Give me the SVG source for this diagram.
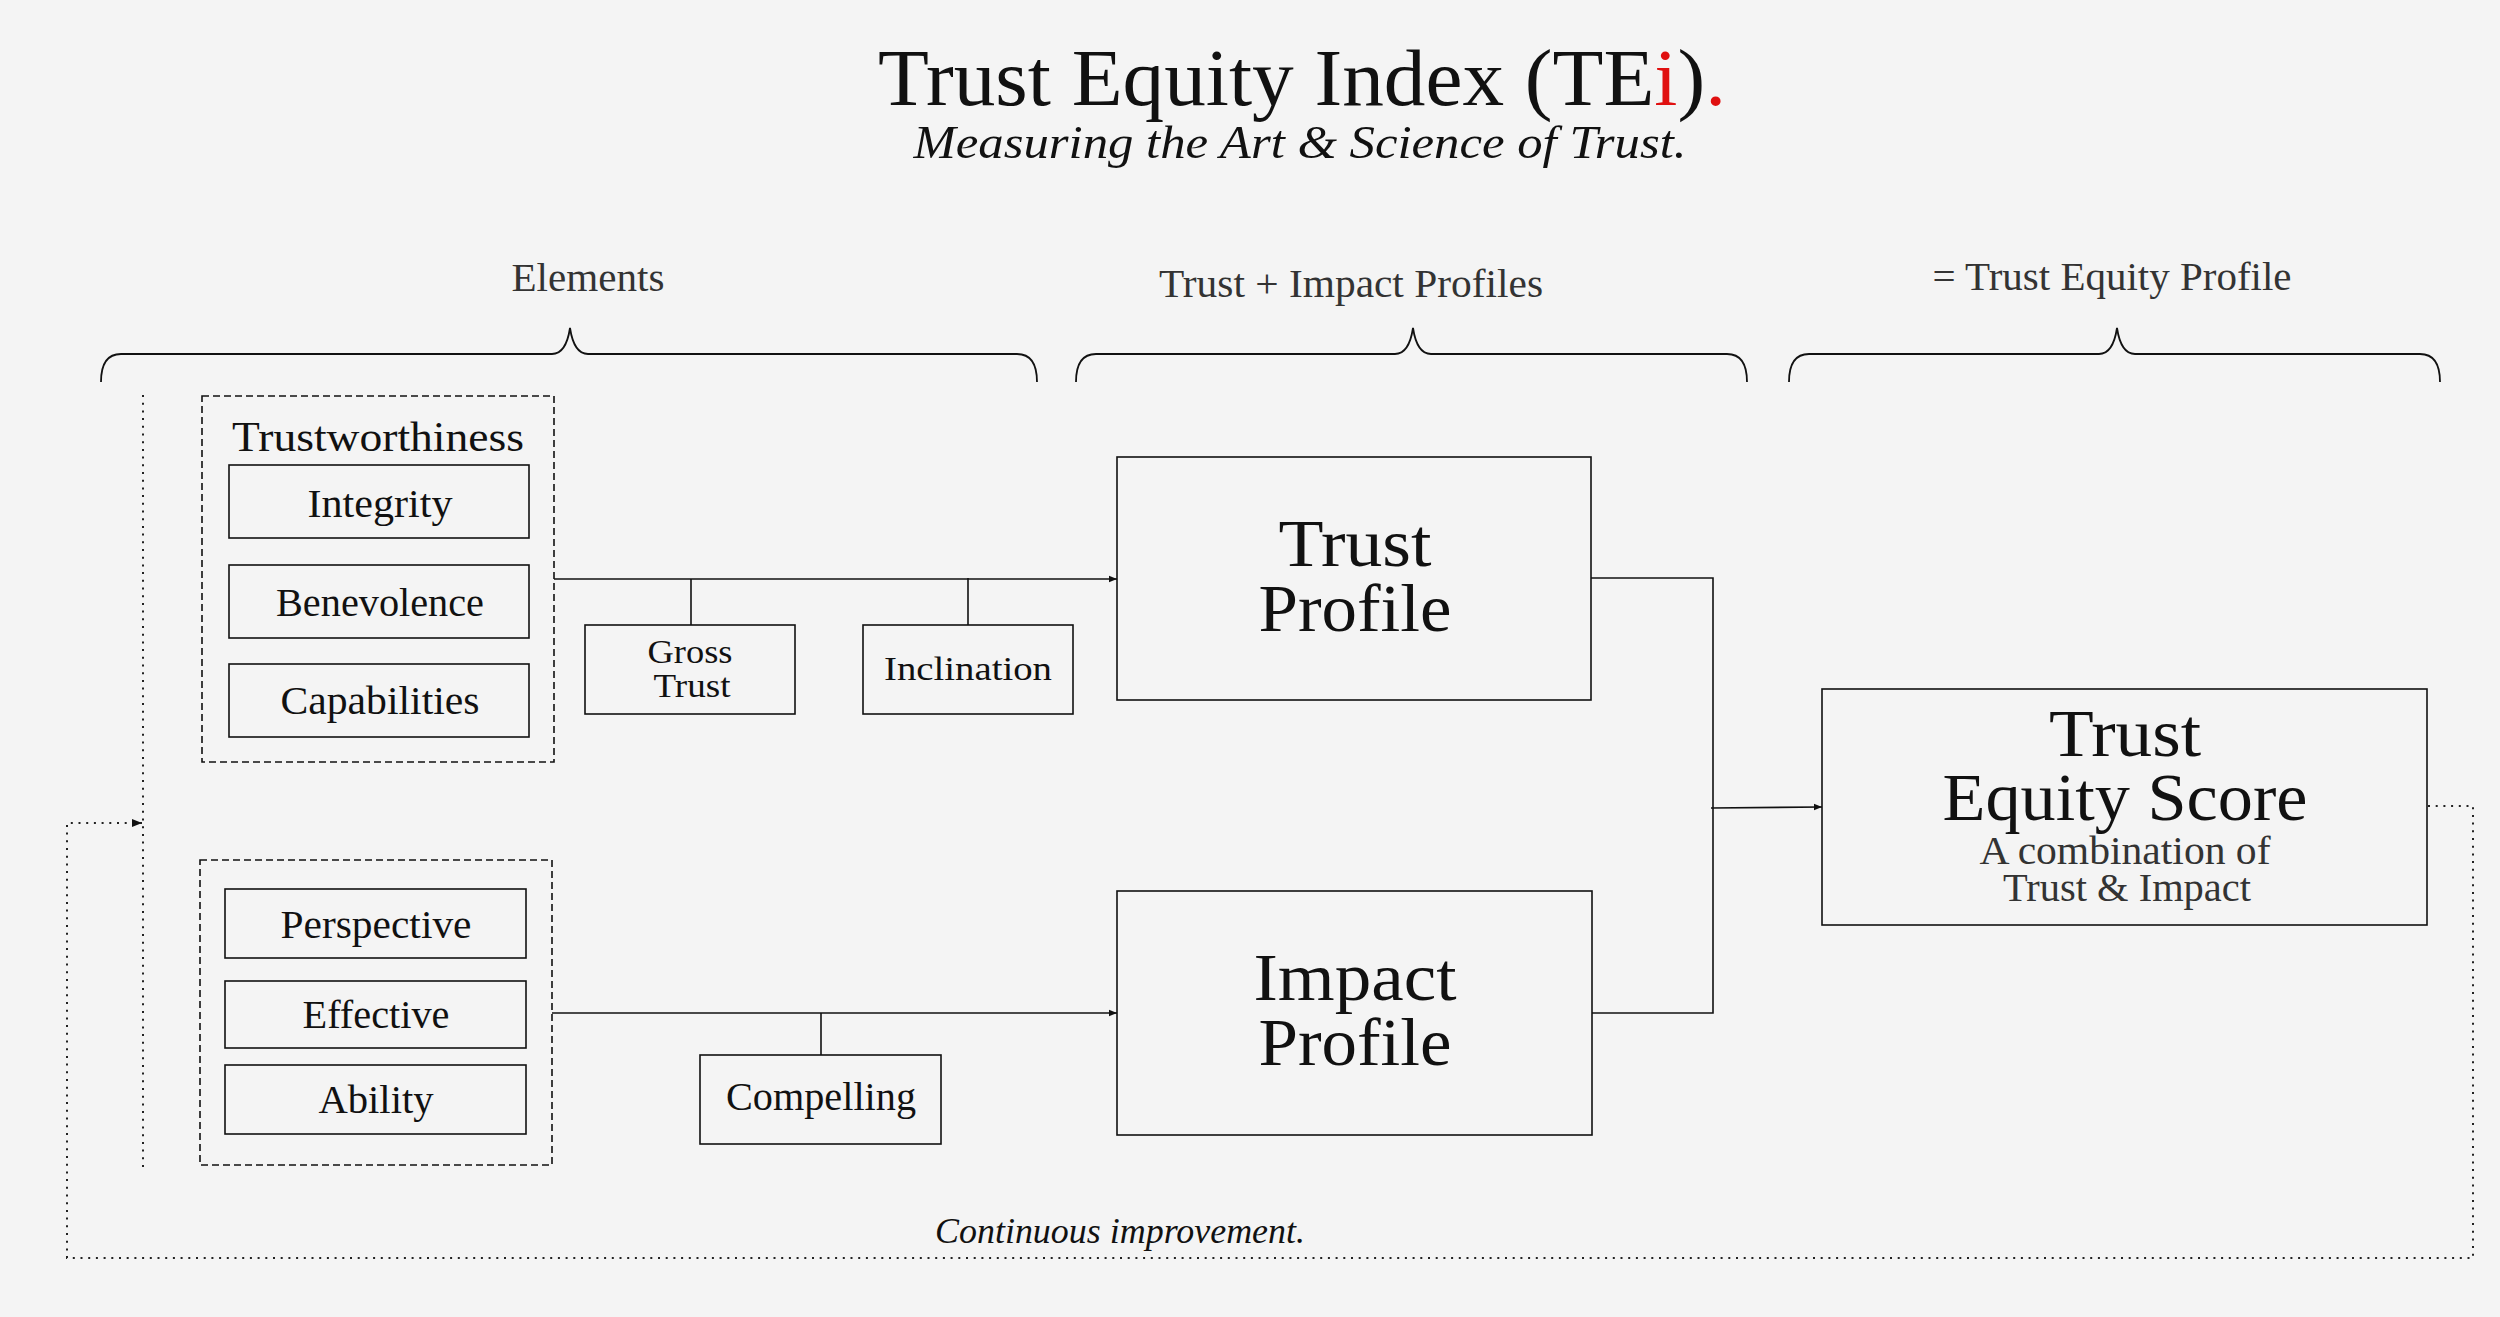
<svg xmlns="http://www.w3.org/2000/svg" width="2500" height="1317" viewBox="0 0 2500 1317">
<style>
text{font-family:"Liberation Serif","Times New Roman",serif;fill:#111;text-anchor:middle}
.sec{font-size:39px;fill:#333}
.box{fill:none;stroke:#111;stroke-width:1.6}
.grp{fill:none;stroke:#111;stroke-width:1.6;stroke-dasharray:7 4}
.ln{fill:none;stroke:#111;stroke-width:1.6}
.dot{fill:none;stroke:#222;stroke-width:2;stroke-dasharray:2 5.7}
.brace{fill:none;stroke:#111;stroke-width:1.8}
.el{font-size:39px}
.sm{font-size:34px}
.big{font-size:68px}
</style>
<defs>
<marker id="ah" viewBox="0 0 10 10" refX="10" refY="5" markerWidth="10" markerHeight="8" markerUnits="userSpaceOnUse" orient="auto">
<path d="M0,1 L10,5 L0,9 Z" fill="#111"/>
</marker>
<marker id="ahd" viewBox="0 0 10 10" refX="10" refY="5" markerWidth="14" markerHeight="10" markerUnits="userSpaceOnUse" orient="auto">
<path d="M0,1 L10,5 L0,9 Z" fill="#111"/>
</marker>
</defs>
<rect width="2500" height="1317" fill="#f4f4f4"/>

<g id="title">
<text x="1302" y="105" font-size="80" textLength="848" lengthAdjust="spacingAndGlyphs">Trust Equity Index (TE<tspan fill="#e01010">i</tspan>)<tspan fill="#e01010">.</tspan></text>
<text x="1300" y="158" font-size="47" font-style="italic" textLength="773" lengthAdjust="spacingAndGlyphs">Measuring the Art &amp; Science of Trust.</text>
</g>

<g id="sections">
<text class="sec" x="588" y="291" textLength="153" lengthAdjust="spacingAndGlyphs">Elements</text>
<text class="sec" x="1351" y="297" textLength="384" lengthAdjust="spacingAndGlyphs">Trust + Impact Profiles</text>
<text class="sec" x="2112" y="290" textLength="359" lengthAdjust="spacingAndGlyphs">= Trust Equity Profile</text>
<path class="brace" d="M101,382 Q101,354 121,354 L552,354 Q566,354 570,328 Q574,354 588,354 L1017,354 Q1037,354 1037,382"/>
<path class="brace" d="M1076,382 Q1076,354 1096,354 L1395,354 Q1409,354 1413,328 Q1417,354 1431,354 L1727,354 Q1747,354 1747,382"/>
<path class="brace" d="M1789,382 Q1789,354 1809,354 L2099,354 Q2113,354 2117,328 Q2121,354 2135,354 L2420,354 Q2440,354 2440,382"/>
</g>

<g id="connectors">
<line class="dot" x1="143" y1="395" x2="143" y2="1170"/>
<path class="dot" d="M2428,806 L2473,806 L2473,1258 L67,1258 L67,823 L142,823" marker-end="url(#ahd)"/>
<line class="ln" x1="554" y1="579" x2="1117" y2="579" marker-end="url(#ah)"/>
<line class="ln" x1="691" y1="579" x2="691" y2="625"/>
<line class="ln" x1="968" y1="578" x2="968" y2="625"/>
<line class="ln" x1="552" y1="1013" x2="1117" y2="1013" marker-end="url(#ah)"/>
<line class="ln" x1="821" y1="1013" x2="821" y2="1055"/>
<path class="ln" d="M1591,578 L1713,578 L1713,1013 L1592,1013"/>
<line class="ln" x1="1711" y1="808" x2="1822" y2="807" marker-end="url(#ah)"/>
</g>

<g id="trustworthiness">
<rect class="grp" x="202" y="396" width="352" height="366"/>
<text x="378" y="451" font-size="42" textLength="292" lengthAdjust="spacingAndGlyphs">Trustworthiness</text>
</g>
<g id="integrity">
<rect class="box" x="229" y="465" width="300" height="73"/>
<text class="el" x="380" y="517" textLength="145" lengthAdjust="spacingAndGlyphs">Integrity</text>
</g>
<g id="benevolence">
<rect class="box" x="229" y="565" width="300" height="73"/>
<text class="el" x="380" y="616" textLength="208" lengthAdjust="spacingAndGlyphs">Benevolence</text>
</g>
<g id="capabilities">
<rect class="box" x="229" y="664" width="300" height="73"/>
<text class="el" x="380" y="714" textLength="199" lengthAdjust="spacingAndGlyphs">Capabilities</text>
</g>

<g id="gross-trust">
<rect class="box" x="585" y="625" width="210" height="89"/>
<text class="sm" x="690" y="663" textLength="85" lengthAdjust="spacingAndGlyphs">Gross</text>
<text class="sm" x="692" y="697" textLength="77" lengthAdjust="spacingAndGlyphs">Trust</text>
</g>
<g id="inclination">
<rect class="box" x="863" y="625" width="210" height="89"/>
<text class="sm" x="968" y="680" textLength="168" lengthAdjust="spacingAndGlyphs">Inclination</text>
</g>

<g id="impact-elements">
<rect class="grp" x="200" y="860" width="352" height="305"/>
</g>
<g id="perspective">
<rect class="box" x="225" y="889" width="301" height="69"/>
<text class="el" x="376" y="938" textLength="191" lengthAdjust="spacingAndGlyphs">Perspective</text>
</g>
<g id="effective">
<rect class="box" x="225" y="981" width="301" height="67"/>
<text class="el" x="376" y="1028" textLength="147" lengthAdjust="spacingAndGlyphs">Effective</text>
</g>
<g id="ability">
<rect class="box" x="225" y="1065" width="301" height="69"/>
<text class="el" x="376" y="1113" textLength="115" lengthAdjust="spacingAndGlyphs">Ability</text>
</g>

<g id="compelling">
<rect class="box" x="700" y="1055" width="241" height="89"/>
<text class="el" x="821" y="1110" textLength="190" lengthAdjust="spacingAndGlyphs">Compelling</text>
</g>

<g id="trust-profile">
<rect class="box" x="1117" y="457" width="474" height="243"/>
<text class="big" x="1355" y="566" textLength="153" lengthAdjust="spacingAndGlyphs">Trust</text>
<text class="big" x="1355" y="631" textLength="193" lengthAdjust="spacingAndGlyphs">Profile</text>
</g>

<g id="impact-profile">
<rect class="box" x="1117" y="891" width="475" height="244"/>
<text class="big" x="1355" y="1000" textLength="203" lengthAdjust="spacingAndGlyphs">Impact</text>
<text class="big" x="1355" y="1065" textLength="193" lengthAdjust="spacingAndGlyphs">Profile</text>
</g>

<g id="trust-equity-score">
<rect class="box" x="1822" y="689" width="605" height="236"/>
<text class="big" x="2125" y="756" textLength="152" lengthAdjust="spacingAndGlyphs">Trust</text>
<text class="big" x="2125" y="820" textLength="365" lengthAdjust="spacingAndGlyphs">Equity Score</text>
<text x="2125" y="864" font-size="39" fill="#333" style="fill:#333" textLength="291" lengthAdjust="spacingAndGlyphs">A combination of</text>
<text x="2127" y="901" font-size="39" style="fill:#333" textLength="248" lengthAdjust="spacingAndGlyphs">Trust &amp; Impact</text>
</g>

<g id="feedback-label">
<text x="1120" y="1243" font-size="35" font-style="italic" textLength="370" lengthAdjust="spacingAndGlyphs">Continuous improvement.</text>
</g>
</svg>
